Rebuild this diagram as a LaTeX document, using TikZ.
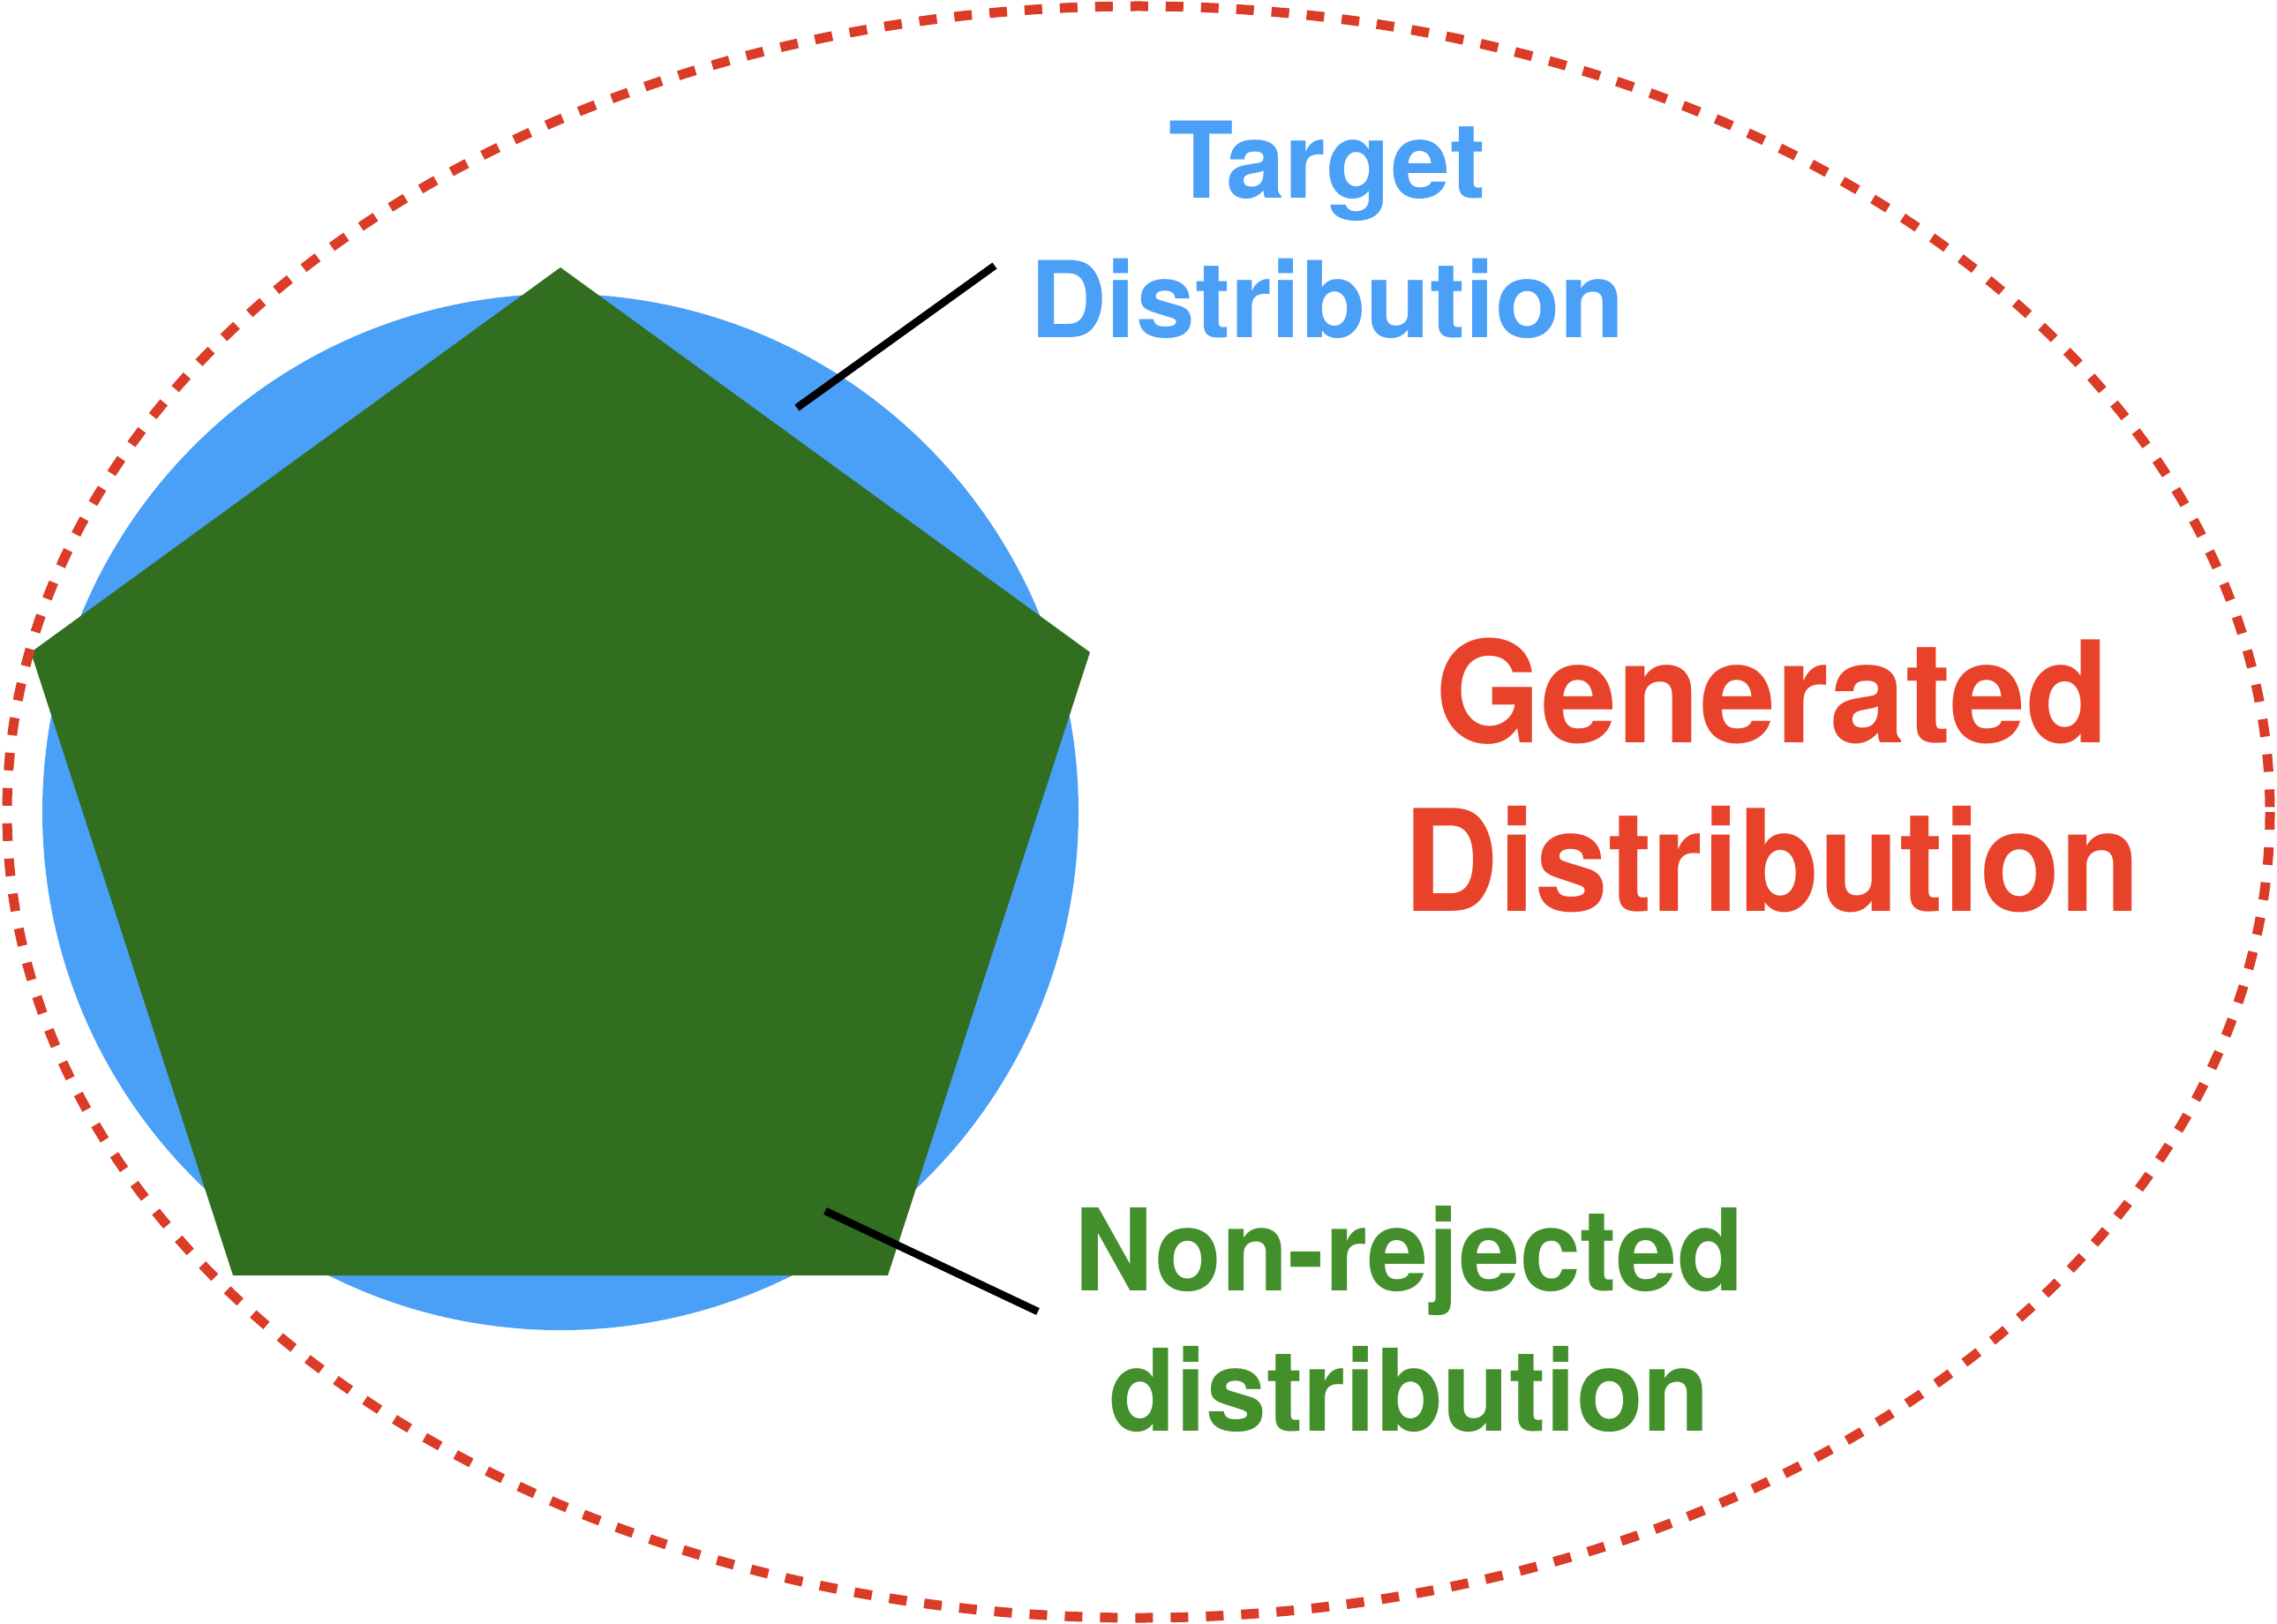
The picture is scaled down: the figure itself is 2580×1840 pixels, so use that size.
\documentclass[tikz,border=0pt]{standalone}
\usepackage{fontspec}
\setmainfont{TeX Gyre Heros}
\definecolor{tblue}{HTML}{4A9FF7}
\definecolor{pgreen}{HTML}{316E1F}
\definecolor{lgreen}{HTML}{428F2B}
\definecolor{tred}{HTML}{E8432A}
\definecolor{dred}{HTML}{DA3C28}
\begin{document}
\begin{tikzpicture}[x=0.5pt,y=-0.5pt,
  reddash/.style={draw=dred,line width=5.5pt,dash pattern=on 10pt off 10pt},
  leader/.style={draw=black,line width=4.3pt},
  lbl/.style={inner sep=0pt,align=center,anchor=base}]
\useasboundingbox (0,0) rectangle (2580,1840);
\fill[tblue] (635,920) circle[radius=587];
\fill[pgreen] (635,303) -- (1235,739) -- (1006,1445) -- (264,1445) -- (35,739) -- cycle;
\draw[reddash] (1290,920) ellipse[x radius=1282, y radius=913];
\node[lbl,text=tblue,font=\fontsize{60}{79}\selectfont\bfseries] (target) at (1504,383) {Target\\Distribution};
\node[lbl,text=tred,font=\fontsize{80}{95.5}\selectfont\bfseries] (gen) at (2008,1032) {\scalebox{0.965}[1]{Generated}\\\scalebox{0.93}[1]{Distribution}};
\node[lbl,text=lgreen,font=\fontsize{64.5}{79.5}\selectfont\bfseries] (nonrej) at (1597,1621) {\scalebox{0.96}[1]{Non-rejected}\\\scalebox{0.96}[1]{distribution}};
\coordinate (ta) at (903,462);
\coordinate (tb) at (1127,301);
\coordinate (na) at (935,1372);
\coordinate (nb) at (1176,1486);
\draw[leader] (ta) -- (tb);
\draw[leader] (na) -- (nb);
\end{tikzpicture}
\end{document}
